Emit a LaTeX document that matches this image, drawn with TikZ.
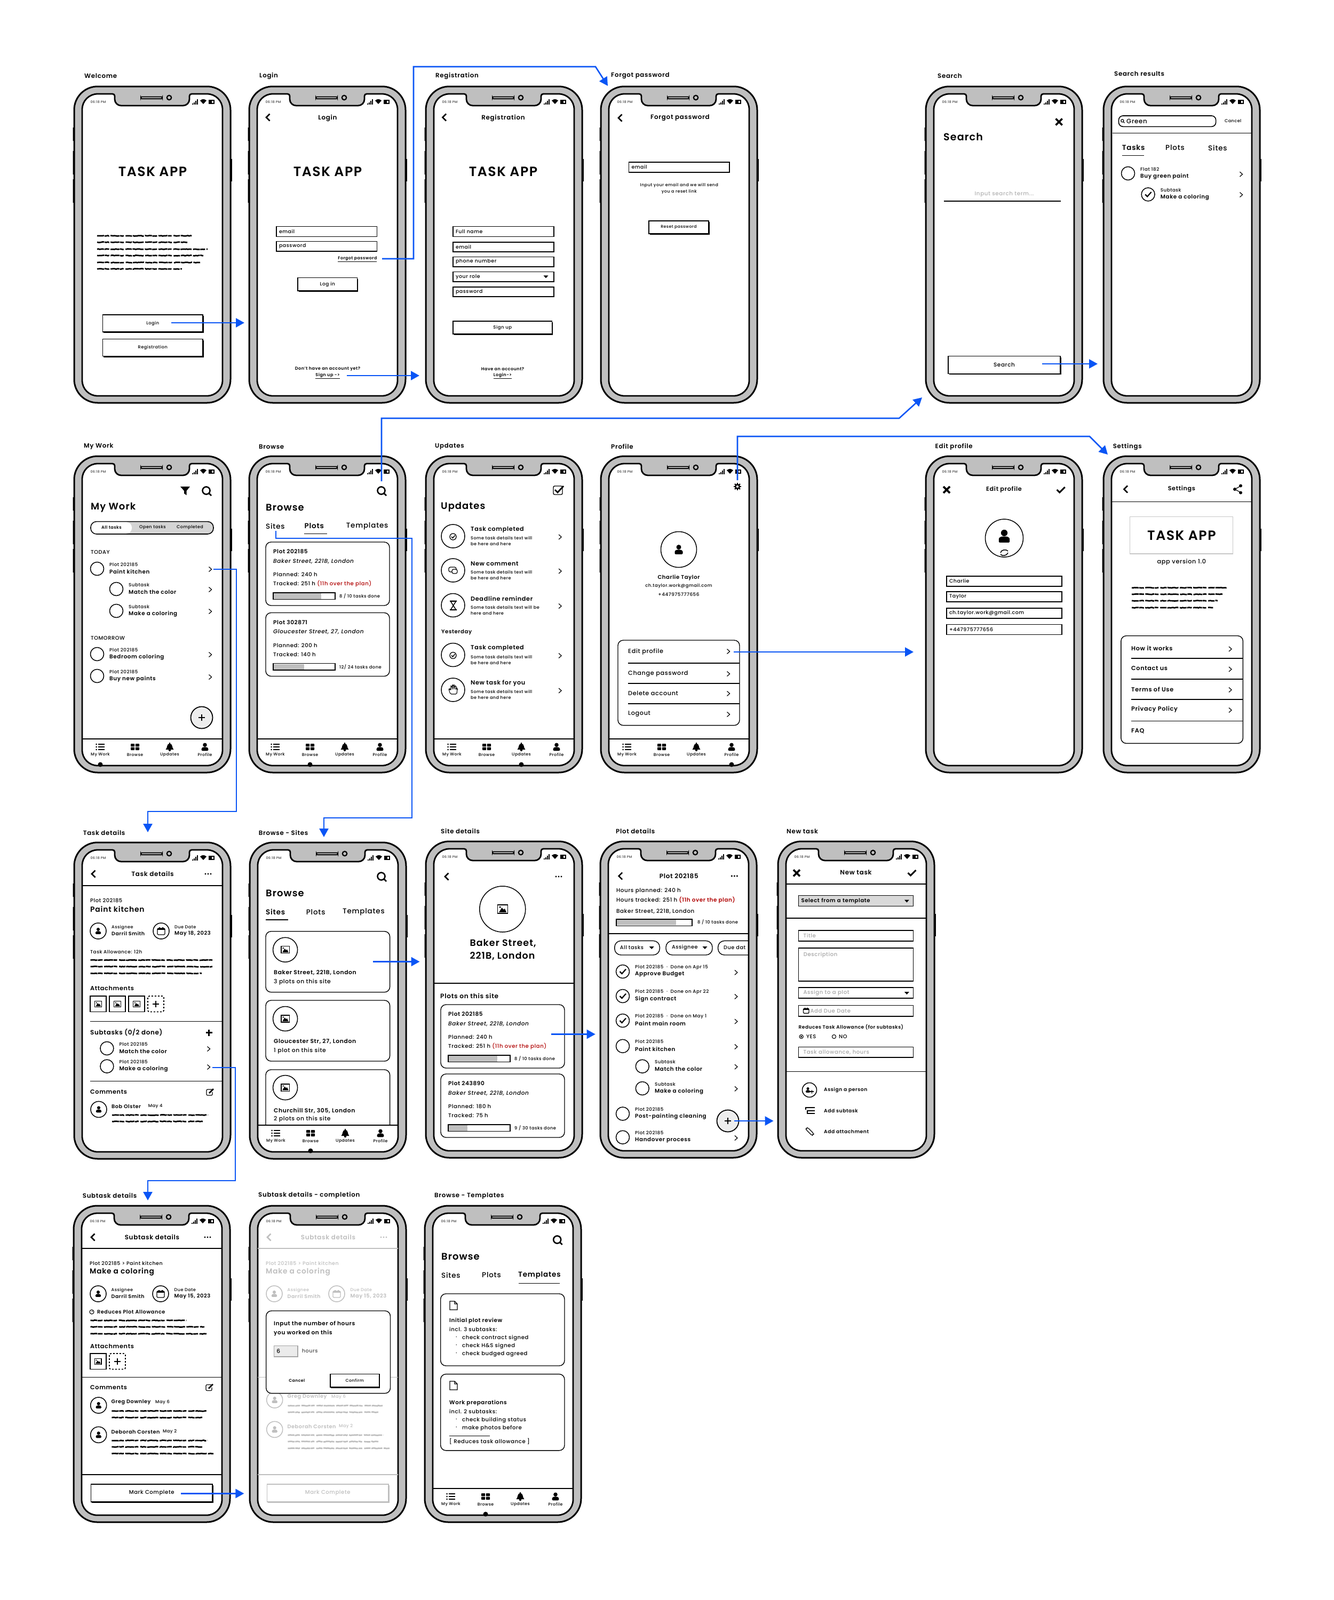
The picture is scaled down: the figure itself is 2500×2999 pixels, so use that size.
\documentclass[tikz,border=0pt]{standalone}
\usepackage{fontspec}
\setmainfont{Poppins Medium}[Scale=1.12,LetterSpace=6,BoldFont={Poppins SemiBold},ItalicFont={Poppins Medium Italic}]
\usetikzlibrary{arrows.meta,shadows,decorations.pathmorphing}

\definecolor{flowblue}{HTML}{0A55F5}
\definecolor{shellgray}{HTML}{BFBFBF}
\definecolor{overred}{HTML}{B00000}
\colorlet{edgecol}{black}

\tikzset{
  txt/.style={inner sep=0pt,anchor=west},
  sepline/.style={line width=1.4pt},
  card/.style={line width=1.4pt,rounded corners=10pt,fill=white},
  btnbox/.style={draw,fill=white,line width=1.6pt,inner sep=0pt,
    general shadow={shadow xshift=1.6pt,shadow yshift=-2pt,fill=edgecol}},
  fieldbox/.style={draw,fill=white,line width=1.7pt,inner xsep=5pt,inner ysep=0pt,align=left},
  scribble/.style={line width=2.7pt,dash pattern=on 13pt off 1pt on 9pt off 2.5pt on 17pt off 1pt on 7pt off 3.5pt on 12pt off 1.5pt on 21pt off 2.5pt,
    decorate,decoration={random steps,segment length=2.5pt,amplitude=.5pt}},
  flow/.style={draw=flowblue,line width=2.6pt,-{Triangle[length=16pt,width=17pt]}},
}

\newcounter{lblno}
\newcommand{\fs}[1]{\fontsize{#1pt}{#1pt}\selectfont}
\newcommand{\tx}[5][]{\stepcounter{lblno}\node[txt,font=\fs{#4},#1] (lbl\arabic{lblno}) at (#2,#3) {#5};}
\newcommand{\bx}[5][]{\stepcounter{lblno}\node[txt,font=\fs{#4}\bfseries,#1] (lbl\arabic{lblno}) at (#2,#3) {#5};}
\newcommand{\sep}[3]{\draw[sepline] (#1,#3) -- (#2,#3);}
\newcommand{\scrib}[3]{\draw[scribble] (#1,#2) -- (#3,#2);}

% buttons and input fields: name, x1, y1, x2, y2, text
\newcommand{\btn}[7][9]{\node[btnbox,font=\fs{#1},minimum width={#5-#3},minimum height={#6-#4}] (#2) at ({(#3+#5)/2},{(#4+#6)/2}) {#7};}
\newcommand{\field}[7][]{\node[fieldbox,font=\fs{8.4},text width={(#5-#3-10)*1pt},minimum height={#6-#4},#1] (#2) at ({(#3+#5)/2},{(#4+#6)/2}) {#7};}

% icons
\newcommand{\icback}[2]{\draw[line width=2.6pt] (#1+3.5,#2-6.5) -- (#1-3,#2) -- (#1+3.5,#2+6.5);}
\newcommand{\chev}[2]{\draw[line width=1.2pt] (#1-2.5,#2-4.5) -- (#1+2.5,#2) -- (#1-2.5,#2+4.5);}
\newcommand{\icsearch}[2]{\draw[line width=2.6pt] (#1-1.5,#2-1.5) circle (7) (#1+3.5,#2+3.5) -- (#1+8,#2+8);}
\newcommand{\icsmallsearch}[2]{\draw[line width=1.2pt] (#1-.7,#2-.7) circle (2.6) (#1+1.2,#2+1.2) -- (#1+3.4,#2+3.4);}
\newcommand{\icfilter}[2]{\fill (#1-9,#2-8) -- (#1+9,#2-8) -- (#1+2.5,#2) -- (#1+2.5,#2+8) -- (#1-2,#2+5) -- (#1-2,#2) -- cycle;}
\newcommand{\icx}[2]{\draw[line width=3.6pt] (#1-6,#2-6) -- (#1+6,#2+6) (#1-6,#2+6) -- (#1+6,#2-6);}
\newcommand{\iccheck}[2]{\draw[line width=3pt] (#1-7,#2) -- (#1-2,#2+5) -- (#1+8,#2-5);}
\newcommand{\icdots}[2]{\fill (#1-5,#2) circle (1.7) (#1,#2) circle (1.7) (#1+5,#2) circle (1.7);}
\newcommand{\icplus}[2]{\draw[line width=2.6pt] (#1-6,#2) -- (#1+6,#2) (#1,#2-6) -- (#1,#2+6);}
\newcommand{\ictri}[2]{\fill (#1-4.5,#2-2.5) -- (#1+4.5,#2-2.5) -- (#1,#2+2.5) -- cycle;}
\newcommand{\icperson}[3]{\begin{scope}[shift={(#1,#2)},scale=#3]
  \fill (0,-3.6) circle (3.6);
  \fill[rounded corners=1.5pt] (-6,7) -- (-6,2) -- (-3,0.3) -- (3,0.3) -- (6,2) -- (6,7) -- cycle;
\end{scope}}
\newcommand{\icimage}[3]{\begin{scope}[shift={(#1,#2)},scale=#3]
  \draw[line width=1.3pt] (-7,-6) rectangle (7,6);
  \fill (-5,4.5) -- (-1,-2) -- (1.5,.8) -- (3,-.7) -- (5.5,4.5) -- cycle;
  \fill (-3.5,-2.8) circle (1.3);
\end{scope}}
\newcommand{\iccal}[3]{\begin{scope}[shift={(#1,#2)},scale=#3]
  \draw[line width=1.3pt,rounded corners=1.5pt] (-7,-5) rectangle (7,7);
  \fill (-7,-5) rectangle (7,-2);
  \fill (-4,-7) rectangle (-2,-3) (2,-7) rectangle (4,-3);
\end{scope}}
\newcommand{\icedit}[2]{\begin{scope}[shift={(#1,#2)}]
  \draw[line width=1.2pt,rounded corners=2pt] (4,-5) -- (-6,-5) -- (-6,6) -- (5,6) -- (5,0);
  \draw[line width=2.6pt] (-1,2) -- (7,-6);
\end{scope}}
\newcommand{\ictabbell}[2]{\begin{scope}[shift={(#1,#2)}]
  \fill (-7.5,5) .. controls (-4,2) and (-6,-6) .. (0,-6.5) .. controls (6,-6) and (4,2) .. (7.5,5) -- cycle;
  \fill (0,-7) circle (1.3) (0,6) circle (2.2);
\end{scope}}
\newcommand{\ictablist}[2]{\begin{scope}[shift={(#1,#2)}]
  \foreach \rowy in {-5,0,5} {
    \fill (-7.3,\rowy) circle (1.5);
    \fill (-4,\rowy-1.1) rectangle (8,\rowy+1.1);
  }
\end{scope}}
\newcommand{\ictabgrid}[2]{\begin{scope}[shift={(#1,#2)}]
  \fill[rounded corners=.8pt] (-8,-6) rectangle (-.8,-.6) (.8,-6) rectangle (8,-.6) (-8,.6) rectangle (-.8,6) (.8,.6) rectangle (8,6);
\end{scope}}
\newcommand{\icdoc}[2]{\begin{scope}[shift={(#1,#2)}]
  \draw[line width=1.3pt] (-7,-8) -- (2,-8) -- (7,-3) -- (7,8) -- (-7,8) -- cycle (2,-8) -- (2,-3) -- (7,-3);
\end{scope}}

% ring with a tick, ring alone, and the round add button
\newcommand{\ring}[3]{\draw[line width=1.5pt] (#1,#2) circle (#3);}
\newcommand{\avatar}[2]{\ring{#1}{#2}{15}\icperson{#1}{#2}{.85}}
\newcommand{\fab}[2]{\draw[line width=1.8pt,fill=black!7] (#1,#2) circle (20.5);\icplus{#1}{#2}}

% task row: x, y, small line, bold line
\newcommand{\taskrow}[4]{\ring{#1}{#2}{12.5}
  \tx{#1+23}{#2-8}{7.8}{#3}
  \bx{#1+23}{#2+5.5}{9.2}{#4}}
\newcommand{\rowdone}[2]{\draw[line width=2.2pt] (#1-5.5,#2) -- (#1-1.5,#2+4) -- (#1+6,#2-4.5);}

% scribbled text block
\newcommand{\attachthumb}[2]{\draw[line width=1.8pt] (#1,#2) rectangle ++(30,29.5);\icimage{#1+15}{#2+15}{.9}}
\newcommand{\attachadd}[2]{\draw[line width=1.8pt,dashed,rounded corners=3pt] (#1,#2) rectangle ++(30,29.5);\icplus{#1+15}{#2+15}}

% plot card: x, y, name, address, planned, tracked, over, fill end, done
\newcommand{\plotcard}[9]{\draw[card] (#1,#2) rectangle ++(232,119);
  \bx{#1+14}{#2+18}{9.4}{#3}
  \tx[font=\fs{9.4}\itshape]{#1+14}{#2+36}{9.4}{#4}
  \tx{#1+14}{#2+61}{9}{#5}
  \tx{#1+14}{#2+78}{9}{#6 \textcolor{overred}{#7}}
  \draw[line width=1.5pt,fill=white] (#1+14,#2+95) rectangle ++(116,12.5);
  \fill[black!25] (#1+15,#2+96) rectangle (#1+#8,#2+106.5);
  \tx{#1+138}{#2+101.5}{7.4}{#9}}

% phone frame, local size 293 x 593
\newcommand{\phonebody}{
  \fill (-1.5,77) rectangle (2,102) (-1.5,121) rectangle (2,165) (-1.5,174) rectangle (2,218);
  \fill (293,136) rectangle (296.5,178);
  \draw[line width=3pt,fill=shellgray,rounded corners=44pt] (1,0) rectangle (294,593);
  \draw[line width=2.8pt,fill=white] [rounded corners=29pt] (16,300) -- (16,14) [rounded corners=4pt] -- (77,14) [rounded corners=12pt] -- (77,36) -- (217,36) [rounded corners=4pt] -- (217,14) [rounded corners=29pt] -- (279,14) -- (279,580) -- (16,580) -- cycle;
  \draw[line width=2pt,rounded corners=2pt,fill=white] (126,19.5) rectangle (166,23);
  \draw[line width=2.2pt] (179,21) circle (4.2);
  \tx[anchor=center,text=black!75]{46}{29}{5.6}{06:18 PM}
  \foreach \barx/\bary in {222/32,225/30,228/27,231/24} {\fill (\barx,33.5) rectangle (\barx+1.6,\bary);}
  \fill (243,33) -- (237,26.5) .. controls (241,23) and (245,23) .. (249,26.5) -- cycle;
  \draw[line width=1.1pt] (254,26) rectangle (263,32);
  \fill (255,27) rectangle (259,31);
}
\newcommand{\tabbar}[1]{
  \sep{16}{279}{530}
  \ictablist{50}{545}
  \ictabgrid{115}{545}
  \ictabbell{180}{545}
  \icperson{246}{545}{1.05}
  \tx[anchor=center]{50}{560}{6.9}{My Work}
  \tx[anchor=center]{115}{560}{6.9}{Browse}
  \tx[anchor=center]{180}{560}{6.9}{Updates}
  \tx[anchor=center]{246}{560}{6.9}{Profile}
  \fill (#1,578) circle (4.5);
}
\newcommand{\appname}[2]{\bx[anchor=center]{#1}{#2}{22.5}{TASK APP}}

% shared parts of the two subtask screens
\newcommand{\subtaskhead}{
  \icback{37}{59}
  \bx[anchor=center]{148}{59}{10.6}{Subtask details}
  \icdots{252}{59}
  \sep{16}{279}{80}
  \tx{31}{108}{8.4}{Plot 202185 > Paint kitchen}
  \bx{31}{124}{12.2}{Make a coloring}
  \avatar{47}{165}
  \tx{71.5}{158}{7.2}{Assignee}
  \bx{71.5}{170}{8.4}{Darril Smith}
  \ring{164}{165}{15}\iccal{164}{165}{1}
  \tx{189.5}{158}{7.2}{Due Date}
  \bx{189.5}{170}{8.8}{May 15, 2023}
  \sep{16}{279}{321.5}
  \sep{16}{279}{504}
}
\newcommand{\subtaskcomments}[1]{
  \avatar{47.7}{374+#1}
  \bx{71.5}{368.7+#1}{8.6}{Greg Downley}
  \tx{154}{368.7+#1}{7.4}{May 6}
  \scrib{72.4}{384.7+#1}{252}
  \scrib{72.4}{397+#1}{242}
  \avatar{47.7}{429.3+#1}
  \bx{71.5}{423.8+#1}{8.6}{Deborah Corsten}
  \tx{167.8}{423.8+#1}{7.4}{May 2}
  \scrib{72.4}{440+#1}{252}
  \scrib{72.4}{452+#1}{242}
  \scrib{72.4}{464.6+#1}{263}
}

\begin{document}
\begin{tikzpicture}[x=1pt,y=-1pt]
\useasboundingbox (0,0) rectangle (2500,2999);

% frame titles
\bx{158}{142}{10.5}{Welcome}
\bx{486}{142}{10.5}{Login}
\bx{816}{142}{10.5}{Registration}
\bx{1145}{142}{10.5}{Forgot password}
\bx{1757}{142}{10.5}{Search}
\bx{2088}{138.5}{10.5}{Search results}
\bx{157}{837}{10.5}{My Work}
\bx{485}{837}{10.5}{Browse}
\bx{815}{837}{10.5}{Updates}
\bx{1145}{837}{10.5}{Profile}
\bx{1752.5}{837}{10.5}{Edit profile}
\bx{2085.6}{837}{10.5}{Settings}
\bx{155.6}{1560.5}{10.5}{Task details}
\bx{484.7}{1561}{10.5}{Browse - Sites}
\bx{826}{1558}{10.5}{Site details}
\bx{1154}{1558}{10.5}{Plot details}
\bx{1474}{1558}{10.5}{New task}
\bx{154.7}{2240.5}{10.5}{Subtask details}
\bx{484}{2240.5}{10.5}{Subtask details - completion}
\bx{814}{2241.8}{10.5}{Browse - Templates}

% Welcome
\begin{scope}[shift={(138,162)}]
\phonebody
\appname{148}{160}
\scrib{44}{280}{223}
\scrib{44}{292}{213}
\scrib{44}{305}{251}
\scrib{44}{317}{243}
\scrib{44}{330}{237}
\scrib{44}{342}{203}
\btn[7.3]{welcomeLogin}{54.5}{428}{242}{460}{Login}
\btn[7.3]{welcomeReg}{54.5}{473.5}{242}{505.5}{Registration}
\end{scope}

% Login
\begin{scope}[shift={(466,162)}]
\phonebody
\icback{36}{58}
\bx[anchor=center]{148}{59}{10.6}{Login}
\appname{148}{160}
\field{loginMail}{52}{262.6}{240.6}{281.6}{email}
\field{loginPass}{52}{290.4}{240.6}{309}{password}
\bx[anchor=east]{240.6}{323.6}{7}{\underline{Forgot password}}
\btn[8]{loginBtn}{92}{358.6}{203.6}{383}{Log in}
\bx[anchor=center]{148}{530}{7.2}{Don't have an account yet?}
\bx[anchor=center]{148}{542.5}{7.2}{\underline{Sign up ->}}
\end{scope}

% Registration
\begin{scope}[shift={(797,162)}]
\phonebody
\icback{35.5}{58}
\bx[anchor=center]{146}{59}{10.6}{Registration}
\appname{146}{160}
\field{regName}{52}{262.6}{241}{281.6}{Full name}
\field{regMail}{52}{291.7}{241}{310}{email}
\field{regPhone}{52}{319.4}{241}{338}{phone number}
\field{regRole}{52}{347.6}{241}{366}{your role}
\ictri{226}{356.8}
\field{regPass}{52}{375.8}{241}{394}{password}
\btn[7.6]{regBtn}{52}{439.8}{237.5}{464}{Sign up}
\bx[anchor=center]{145}{530}{7.2}{Have an account?}
\bx[anchor=center]{145}{542.5}{7.2}{\underline{Login->}}
\end{scope}

% Forgot password
\begin{scope}[shift={(1125,162)}]
\phonebody
\icback{37}{59}
\bx[anchor=center]{149.4}{59}{10.6}{Forgot password}
\field{forgotMail}{53.5}{141.8}{242}{160.8}{email}
\tx[anchor=center]{147.8}{185}{7.1}{Input your email and we will send}
\tx[anchor=center]{147.8}{197}{7.1}{you a reset link}
\btn[6.9]{forgotBtn}{91}{251.7}{203}{276}{Reset password}
\end{scope}

% Search
\begin{scope}[shift={(1734,162)}]
\phonebody
\icx{250.6}{66.5}
\bx{34}{95}{17}{Search}
\tx[anchor=center,text=black!30]{148}{202.4}{9.2}{Input search term...}
\sep{34.7}{254}{215}
\btn[9.3]{searchBtn}{43}{505.5}{253}{538.3}{Search}
\end{scope}

% Search results
\begin{scope}[shift={(2067,162)}]
\phonebody
\draw[line width=1.6pt,rounded corners=8pt] (29.5,55) rectangle (211.6,75.3);
\icsmallsearch{37}{65}
\tx{44}{65}{10.5}{Green}
\tx[anchor=center]{243.7}{65}{7.2}{Cancel}
\sep{18}{278}{87.5}
\bx{35.6}{115}{12}{Tasks}
\tx{117}{115}{12}{Plots}
\tx{197}{115}{12}{Sites}
\sep{35.6}{77}{129.6}
\taskrow{47}{163}{Flat 182}{Buy green paint}
\chev{259}{164.6}
\taskrow{84.6}{202.4}{Subtask}{Make a coloring}
\rowdone{84.6}{202.4}
\chev{259}{203}
\end{scope}

% My Work
\begin{scope}[shift={(138,855)}]
\phonebody
\icfilter{209}{65}
\icsearch{250}{66}
\bx{32}{96}{16}{My Work}
\draw[line width=1.6pt,rounded corners=11pt,fill=black!17] (32,122.6) rectangle (262,146);
\fill[white,rounded corners=10pt] (33,123.6) rectangle (109,145);
\bx[anchor=center]{71}{134}{7.2}{All tasks}
\tx[anchor=center]{148}{134}{7.2}{Open tasks}
\tx[anchor=center]{218}{134}{7.2}{Completed}
\tx{32}{180}{8.8}{TODAY}
\taskrow{44}{211}{Plot 202185}{Paint kitchen}
\chev{256}{212}
\taskrow{80}{249}{Subtask}{Match the color}
\chev{256}{250}
\taskrow{80}{290}{Subtask}{Make a coloring}
\chev{256}{291}
\tx{32}{341}{8.8}{TOMORROW}
\taskrow{44}{371}{Plot 202185}{Bedroom coloring}
\chev{256}{372}
\taskrow{44}{412}{Plot 202185}{Buy new paints}
\chev{256}{414}
\fab{240}{490}
\tabbar{50}
\end{scope}

% Browse
\begin{scope}[shift={(466,855)}]
\phonebody
\icsearch{250}{66}
\bx{32}{96}{16}{Browse}
\tx{32}{131}{12}{Sites}
\bx{104.5}{131}{12}{Plots}
\tx{182.6}{131}{12}{Templates}
\sep{104}{147}{145.4}
\plotcard{32}{161}{Plot 202185}{Baker Street, 221B, London}{Planned: 240 h}{Tracked: 251 h}{(11h over the plan)}{104}{8 / 10 tasks done}
\plotcard{32}{293.5}{Plot 302871}{Gloucester Street, 27, London}{Planned: 200 h}{Tracked: 140 h}{}{72}{12/ 24 tasks done}
\tabbar{115}
\end{scope}

% Updates
\begin{scope}[shift={(797,855)}]
\phonebody
\draw[line width=1.4pt,rounded corners=2.5pt] (240,56) rectangle (257,72);
\draw[line width=2.8pt] (243,63) -- (248,68) -- (259,56);
\bx{29}{95}{16}{Updates}
\foreach \rowy/\rowtitle/\rowa/\rowb in {150/Task completed/Some task details text will/be here and here,
  214/New comment/Some task details text will/be here and here,
  279.5/Deadline reminder/Some task details text will be/here and here,
  372.5/Task completed/Some task details text will/be here and here,
  438/New task for you/Some task details text will/be here and here} {
  \ring{52}{\rowy}{22}
  \bx{85}{\rowy-12.5}{10}{\rowtitle}
  \tx{85}{\rowy+3.5}{7.2}{\rowa}
  \tx{85}{\rowy+15}{7.2}{\rowb}
  \chev{252.6}{\rowy+1.5}
}
\tx[font=\fs{9}\bfseries]{30}{330.4}{9}{Yesterday}
% icons in the rings
\foreach \rowy in {150,372.5} {
  \draw[line width=1.3pt] (52,\rowy+1) circle (6);
  \draw[line width=1.5pt] (49,\rowy+1) -- (51.5,\rowy+3.5) -- (55.5,\rowy-1.5);
}
\draw[line width=1.2pt,rounded corners=3pt] (44,208) rectangle (58,217);
\draw[line width=1.2pt,rounded corners=3pt,fill=white] (50,212) rectangle (60,220);
\fill (46,270.5) rectangle (59,272.5) (46,287) rectangle (59,289);
\draw[line width=1.5pt] (47.5,272) -- (52.5,280) -- (47.5,288) -- (57.5,288) -- (52.5,280) -- (57.5,272) -- cycle;
\draw[line width=1.1pt,rounded corners=2pt] (47,446) -- (44,437) -- (46,436) -- (48,439) -- (48,431) -- (50,431) -- (51,437) -- (51,429) -- (53,429) -- (54,437) -- (54.5,430) -- (57,431) -- (57,438) -- (59,434) -- (60,436) -- (59,446) -- cycle;
\tabbar{180}
\end{scope}

% Profile
\begin{scope}[shift={(1125,855)}]
\phonebody
\foreach \a in {0,45,...,315} {\draw[line width=2.4pt] (257,57) -- ++(\a:7);}
\fill (257,57) circle (5.2);
\fill[white] (257,57) circle (2.3);
\ring{147}{175}{33.5}
\icperson{147}{175}{1.25}
\bx[anchor=center]{147}{228}{9}{Charlie Taylor}
\tx[anchor=center]{147}{243.7}{7.5}{ch.taylor.work@gmail.com}
\tx[anchor=center]{147}{258.8}{7.9}{+447975777656}
\draw[card] (33,345) rectangle (261,504.6);
\sep{52}{261}{388}
\sep{52}{261}{426}
\sep{52}{261}{463.8}
\tx{52}{366.6}{10}{Edit profile}
\tx{52}{407.4}{10}{Change password}
\tx{52}{444}{10}{Delete account}
\tx{52}{483.6}{10}{Logout}
\chev{240}{366}
\chev{240}{408}
\chev{240}{445}
\chev{240}{484}
\tabbar{246}
\end{scope}

% Edit profile
\begin{scope}[shift={(1734,855)}]
\phonebody
\icx{40}{63}
\bx[anchor=center]{147.4}{62.7}{10}{Edit profile}
\iccheck{253.7}{63}
\ring{148}{153.6}{35.5}
\icperson{148}{150}{1.7}
\draw[line width=1.5pt] (141,181) .. controls (142,175) and (152,174) .. (155,178);
\draw[line width=1.5pt] (155,181) .. controls (153,187) and (144,188) .. (141,184);
\field{editFirst}{40}{225}{256}{243.7}{Charlie}
\field{editLast}{40}{254}{256}{272.7}{Taylor}
\field{editMail}{40}{285}{256}{304}{ch.taylor.work@gmail.com}
\field{editPhone}{40}{315.6}{256}{334.6}{+447975777656}
\end{scope}

% Settings
\begin{scope}[shift={(2067,855)}]
\phonebody
\icback{42.5}{62}
\bx[anchor=center]{147.4}{62}{10}{Settings}
\draw[line width=1.2pt] (259,55.5) -- (247,62) -- (259,68.5);
\fill (247,62) circle (3) (258,55.5) circle (3) (258,68.5) circle (3);
\sep{16}{279}{85.4}
\draw[line width=1.5pt,draw=black!22] (50.7,113.6) rectangle (243.7,183);
\appname{147.4}{148.6}
\tx[anchor=center]{147.4}{199}{10}{app version 1.0}
\scrib{54}{246.6}{234}
\scrib{54}{258.8}{224}
\scrib{54}{271}{215}
\scrib{54}{284}{206.4}
\draw[card] (33.8,336.7) rectangle (262.4,538.4);
\sep{53}{262}{378.8}
\sep{53}{262}{418}
\sep{53}{262}{456}
\sep{53}{262}{496.6}
\bx{53}{360}{10}{How it works}
\bx{53}{398}{10}{Contact us}
\bx{53}{437}{10}{Terms of Use}
\bx{53}{475}{10}{Privacy Policy}
\bx{53}{515}{10}{FAQ}
\chev{238.5}{361.5}
\chev{238.5}{399.4}
\chev{238.5}{438}
\chev{238.5}{476}
\end{scope}

% Task details
\begin{scope}[shift={(138,1579)}]
\phonebody
\icback{37}{59}
\bx[anchor=center]{148}{59}{10.6}{Task details}
\icdots{252}{59}
\sep{16}{279}{80.8}
\tx{31}{108.6}{8.8}{Plot 202185}
\bx{31}{125}{12.4}{Paint kitchen}
\avatar{46}{166}
\tx{71}{159}{7.2}{Assignee}
\bx{71}{171}{8.4}{Darril Smith}
\ring{164}{166}{15}\iccal{164}{166}{1}
\tx{189}{159}{7.2}{Due Date}
\bx{189}{171}{8.8}{May 18, 2023}
\tx{31}{205.4}{7.9}{Task Allowance: 12h}
\scrib{31.6}{220.5}{260}
\scrib{31.6}{232.7}{260}
\scrib{31.6}{245.4}{240}
\bx{31}{273.6}{10}{Attachments}
\attachthumb{31}{288}
\attachthumb{67}{288}
\attachthumb{103}{288}
\attachadd{139}{288}
\sep{31}{279}{335.5}
\bx{31}{356.5}{10.6}{Subtasks (0/2 done)}
\icplus{253.7}{356.5}
\taskrow{62.4}{386}{Plot 202185}{Match the color}
\chev{253}{387}
\taskrow{62.4}{419.6}{Plot 202185}{Make a coloring}
\chev{253}{421}
\sep{31}{279}{447.4}
\bx{31}{468}{10}{Comments}
\icedit{255}{468}
\avatar{47}{500.4}
\bx{71}{494.5}{8.6}{Bob Olster}
\tx{139.6}{494.5}{7.4}{May 4}
\scrib{72}{511}{252}
\scrib{72}{523}{242}
\end{scope}

% Browse - Sites
\begin{scope}[shift={(467,1579)}]
\phonebody
\icsearch{249}{65}
\bx{31}{95.5}{16}{Browse}
\bx{31}{130.5}{12}{Sites}
\tx{106.7}{130.5}{12}{Plots}
\tx{175}{130.5}{12}{Templates}
\sep{31}{73}{145}
\foreach \cardy/\cardname/\cardnote in {166.7/{Baker Street, 221B, London}/3 plots on this site,
  296/{Gloucester Str, 27, London}/1 plot on this site} {
  \draw[card] (31,\cardy) rectangle (263.6,\cardy+114);
  \ring{67.6}{\cardy+34.5}{23}
  \icimage{67.6}{\cardy+34.5}{1.1}
  \bx{46}{\cardy+77.5}{9.6}{\cardname}
  \tx{46}{\cardy+95}{9.6}{\cardnote}
}
\draw[card,fill=none] (31,535) -- (31,426) -- (263.6,426) -- (263.6,535);
\ring{67.6}{459.6}{23}
\icimage{67.6}{459.6}{1.1}
\bx{46}{503}{9.6}{Churchill Str, 305, London}
\tx{46}{519}{9.6}{2 plots on this site}
\fill[white] (18,530) rectangle (277,545);
\tabbar{115}
\end{scope}

% Site details
\begin{scope}[shift={(797,1577)}]
\phonebody
\icback{40}{66}
\icdots{250}{66}
\ring{144.8}{127}{43}
\icimage{144.8}{127}{1.35}
\bx{83.3}{191.5}{15.6}{Baker Street,}
\bx{83.3}{215}{15.6}{221B, London}
\sep{16}{279}{266}
\bx{28}{290}{10.8}{Plots on this site}
\plotcard{29}{306}{Plot 202185}{Baker Street, 221B, London}{Planned: 240 h}{Tracked: 251 h}{(11h over the plan)}{106}{8 / 10 tasks done}
\plotcard{29}{436}{Plot 243890}{Baker Street, 221B, London}{Planned: 180 h}{Tracked: 75 h}{}{50}{9 / 30 tasks done}
\end{scope}

% Plot details
\begin{scope}[shift={(1124,1577)}]
\phonebody
\icback{38.6}{65}
\bx[anchor=center]{148.3}{65}{10.6}{Plot 202185}
\icdots{252.4}{65}
\tx{30.8}{93.4}{9.2}{Hours planned: 240 h}
\tx{30.8}{110}{9.2}{Hours tracked: 251 h \textcolor{overred}{\bfseries(11h over the plan)}}
\tx{30.8}{131.7}{9.2}{Baker Street, 221B, London}
\draw[line width=1.5pt,fill=white] (30.8,146) rectangle (173,158.3);
\fill[black!25] (32,147) rectangle (143,157.3);
\tx{183}{151}{7.4}{8 / 10 tasks done}
\sep{16}{279}{173}
\draw[line width=1.4pt,rounded corners=12pt] (27.8,186.4) rectangle (112.3,213);
\tx{37.7}{198.7}{8.6}{All tasks}
\ictri{97.2}{199.5}
\draw[line width=1.4pt,rounded corners=12pt] (124,186.4) rectangle (211,213);
\tx{135}{198.7}{8.6}{Assignee}
\ictri{197}{199.5}
\draw[line width=1.4pt,rounded corners=12pt] (279,186.4) -- (221.6,186.4) -- (221.6,213) -- (279,213);
\tx{232}{198.7}{8.6}{Due dat}
\taskrow{43}{244}{Plot 202185\ \ ·\ \ Done on Apr 15}{Approve Budget}
\rowdone{43}{244}
\chev{255.4}{245.8}
\taskrow{43}{290}{Plot 202185\ \ ·\ \ Done on Apr 22}{Sign contract}
\rowdone{43}{290}
\chev{255.4}{291}
\taskrow{43}{336}{Plot 202185\ \ ·\ \ Done on May 1}{Paint main room}
\rowdone{43}{336}
\chev{255.4}{337.6}
\taskrow{43}{383.8}{Plot 202185}{Paint kitchen}
\chev{255.4}{385}
\taskrow{79.8}{421.7}{Subtask}{Match the color}
\chev{255.4}{422.6}
\taskrow{79.8}{463}{Subtask}{Make a coloring}
\chev{255.4}{463.8}
\taskrow{43}{510.5}{Plot 202185}{Post-painting cleaning}
\taskrow{43}{554.7}{Plot 202185}{Handover process}
\chev{255.4}{556}
\fab{240}{524}
\end{scope}

% New task
\begin{scope}[shift={(1457,1577)}]
\phonebody
\icx{36}{59.3}
\bx[anchor=center]{147}{58}{10.6}{New task}
\iccheck{251.5}{59}
\sep{16}{279}{80}
\field[fill=black!15,font=\fs{9}\bfseries]{taskTemplate}{39.5}{101.4}{254.5}{121.6}{Select from a template}
\ictri{242.4}{112}
\sep{16}{279}{144}
\field[text=black!35,font=\fs{9}]{taskTitle}{39.5}{167}{254.5}{187}{\hspace{4pt}Title}
\field{taskDesc}{39.5}{200}{254.5}{262}{}
\tx[text=black!35]{48.6}{213}{9}{Description}
\field[text=black!35,font=\fs{9}]{taskPlot}{39.5}{274}{254.5}{294}{\hspace{4pt}Assign to a plot}
\ictri{242.4}{284.5}
\field[text=black!35,font=\fs{9}]{taskDue}{39.5}{307.6}{254.5}{328}{\hspace{17pt}Add Due Date}
\iccal{53.8}{317}{.75}
\tx{39.5}{348.5}{8}{\bfseries Reduces Task Allowance (for subtasks)}
\draw[line width=1.1pt] (44.7,366) circle (3.6);
\fill (44.7,366) circle (1.8);
\tx{53.8}{366}{8.8}{YES}
\draw[line width=1.1pt] (106,366) circle (3.6);
\tx{115}{366}{8.8}{NO}
\field[text=black!35,font=\fs{9}]{taskHours}{39.5}{385.5}{254.5}{405.3}{\hspace{4pt}Task allowance, hours}
\sep{16}{279}{431.4}
\ring{60}{466}{13.5}
\icperson{57}{466}{.7}
\draw[line width=1.4pt] (61,469) -- (68,469) (64.5,465.5) -- (64.5,472.5);
\bx{87}{466}{8.2}{Assign a person}
\draw[line width=2pt] (70,498.5) -- (53,498.5) -- (53,503) (70,510) -- (56,510) -- (56,505) -- (70,505);
\bx{87}{505}{8.2}{Add subtask}
\draw[line width=1.2pt,rounded corners=3pt,rotate around={-45:(60.7,544)}] (52,541.5) rectangle (69,546.5);
\bx{87}{544}{8.2}{Add attachment}
\end{scope}

% Subtask details
\begin{scope}[shift={(137,2260)}]
\phonebody
\subtaskhead
\draw[line width=1.1pt] (35,199) circle (4);
\draw[line width=.9pt] (35,199) -- (36.5,197);
\bx{45}{199}{8.6}{Reduces Plot Allowance}
\scrib{32.5}{215}{212.5}
\scrib{32.5}{227}{246}
\scrib{32.5}{240}{250}
\bx{32}{263}{10}{Attachments}
\attachthumb{31.6}{277}
\attachadd{68}{277}
\bx{32}{340.5}{10}{Comments}
\icedit{255}{340.5}
\subtaskcomments{0}
\btn[9]{markBtn}{33.4}{522}{261}{554.7}{Mark Complete}
\end{scope}

% Subtask details - completion
\begin{scope}[shift={(467,2260)}]
\phonebody
\begin{scope}[color=black!25]
\colorlet{edgecol}{black!25}
\subtaskhead
\subtaskcomments{-10}
\btn[9]{markDim}{33.4}{522}{261}{554.7}{Mark Complete}
\end{scope}
\draw[card] (31.7,197) rectangle (264.5,351.6);
\bx{46}{222}{9.4}{Input the number of hours}
\bx{46}{239}{9.4}{you worked on this}
\node[draw=black!35,line width=1.5pt,fill=black!8,minimum width=44.6,minimum height=20.4,inner xsep=5pt,text width=34.6pt,font=\fs{9.4},align=left] (hoursBox) at (68.7,272.8) {6};
\tx[text=black!70]{98.6}{272}{8.6}{hours}
\bx[anchor=center]{89.3}{328}{6.8}{Cancel}
\btn[6.9]{confirmBtn}{151.8}{315.6}{243.7}{340}{Confirm}
\end{scope}

% Browse - Templates
\begin{scope}[shift={(795,2260)}]
\phonebody
\icsearch{250.7}{65}
\bx{32}{95}{16}{Browse}
\tx{32}{130}{12}{Sites}
\tx{108}{130}{12}{Plots}
\bx{176}{130}{12}{Templates}
\sep{177}{254}{145.6}
\draw[card] (30.7,165) rectangle (263,300);
\icdoc{55}{187}
\bx{47}{216}{9.2}{Initial plot review}
\tx{47}{231.5}{9}{incl. 3 subtasks:}
\tx{59}{247.5}{9}{·}
\tx{71}{247.5}{9}{check contract signed}
\tx{59}{262.6}{9}{·}
\tx{71}{262.6}{9}{check H\&S signed}
\tx{59}{277.8}{9}{·}
\tx{71}{277.8}{9}{check budged agreed}
\draw[card] (30.7,315.6) rectangle (263,458.8);
\icdoc{55}{337}
\bx{47}{369.5}{9.2}{Work preparations}
\tx{47}{385.5}{9}{incl. 2 subtasks:}
\tx{59}{401.5}{9}{·}
\tx{71}{401.5}{9}{check building status}
\tx{59}{416.7}{9}{·}
\tx{71}{416.7}{9}{make photos before}
\sep{47}{123}{431.4}
\tx{47}{442}{9}{[ Reduces task allowance ]}
\tabbar{115}
\end{scope}

% connector ends and bends
\coordinate (welcomeOut) at (321,605);
\coordinate (loginIn) at (458,605);
\coordinate (forgotLinkOut) at (716,485);
\coordinate (forgotBendA) at (775,125);
\coordinate (forgotBendB) at (1116,125);
\coordinate (forgotIn) at (1139,161);
\coordinate (signUpOut) at (650,704);
\coordinate (regIn) at (786,704);
\coordinate (searchOut) at (1953,682);
\coordinate (resultsIn) at (2057,682);
\coordinate (browseSearchOut) at (715,902);
\coordinate (searchBendA) at (715,784);
\coordinate (searchBendB) at (1685,784);
\coordinate (searchIn) at (1728,745);
\coordinate (gearOut) at (1382,900);
\coordinate (gearBendA) at (1382,818);
\coordinate (gearBendB) at (2042,818);
\coordinate (settingsIn) at (2076,852);
\coordinate (editOut) at (1375,1222);
\coordinate (editIn) at (1712,1222);
\coordinate (kitchenOut) at (400,1067);
\coordinate (kitchenBendA) at (443,1521);
\coordinate (taskIn) at (277,1560);
\coordinate (sitesOut) at (517,995);
\coordinate (sitesBendA) at (772,1009);
\coordinate (sitesBendB) at (607,1533);
\coordinate (sitesIn) at (607,1569);
\coordinate (bakerOut) at (699,1802.5);
\coordinate (siteIn) at (786.5,1802.5);
\coordinate (plotOut) at (1033,1938.5);
\coordinate (plotIn) at (1115.7,1938.5);
\coordinate (fabOut) at (1376,2101);
\coordinate (newTaskIn) at (1449.6,2101);
\coordinate (subtaskOut) at (397.5,2001);
\coordinate (subtaskBendA) at (441,2213);
\coordinate (subtaskIn) at (277,2250);
\coordinate (markOut) at (339.4,2799.4);
\coordinate (completionIn) at (457.4,2799.4);

% connectors
\draw[flow] (welcomeOut) -- (loginIn);
\draw[flow] (forgotLinkOut) -| (forgotBendA) -- (forgotBendB) -- (forgotIn);
\draw[flow] (signUpOut) -- (regIn);
\draw[flow] (searchOut) -- (resultsIn);
\draw[flow] (browseSearchOut) -- (searchBendA) -- (searchBendB) -- (searchIn);
\draw[flow] (gearOut) -- (gearBendA) -- (gearBendB) -- (settingsIn);
\draw[flow] (editOut) -- (editIn);
\draw[flow] (kitchenOut) -| (kitchenBendA) -| (taskIn);
\draw[flow] (sitesOut) |- (sitesBendA) |- (sitesBendB) -- (sitesIn);
\draw[flow] (bakerOut) -- (siteIn);
\draw[flow] (plotOut) -- (plotIn);
\draw[flow] (fabOut) -- (newTaskIn);
\draw[flow] (subtaskOut) -| (subtaskBendA) -| (subtaskIn);
\draw[flow] (markOut) -- (completionIn);

\end{tikzpicture}
\end{document}
